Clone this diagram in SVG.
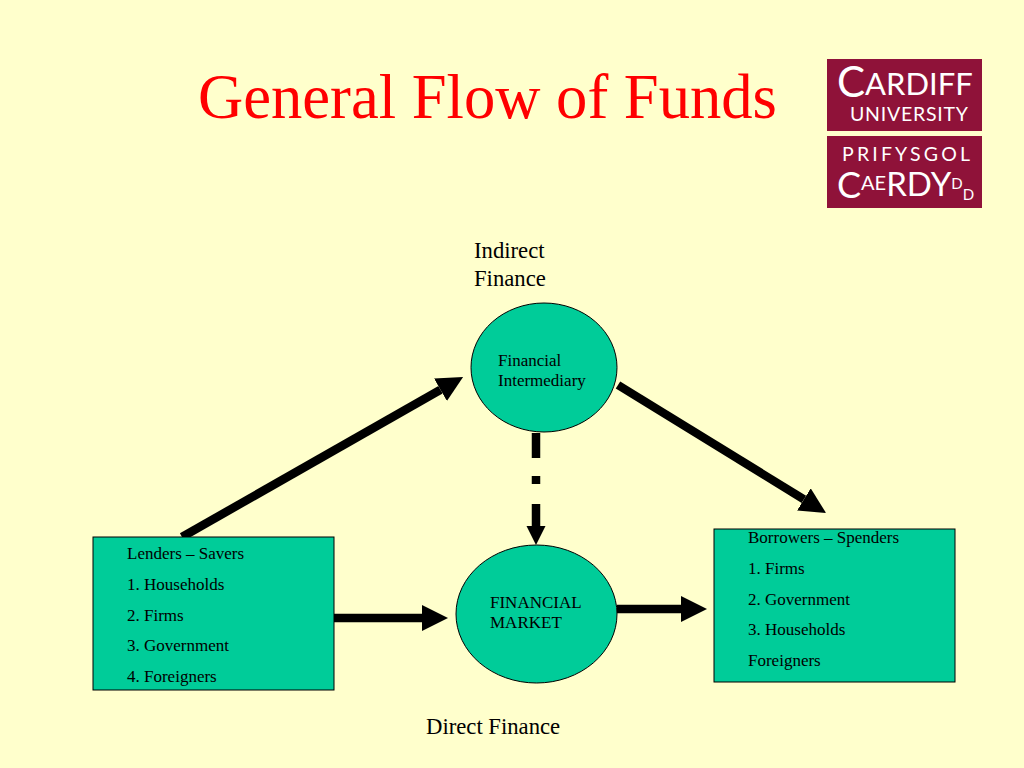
<svg xmlns="http://www.w3.org/2000/svg" width="1024" height="768" viewBox="0 0 1024 768">
<style>
text{font-family:"Liberation Serif","Times New Roman",serif;fill:#000}
.t{font-size:17px}
.m{font-size:22.700px}
.shape{fill:#00CC99;stroke:#000;stroke-width:1}
.c{stroke:#000;stroke-width:8.500;fill:none}
.lg{font-family:Lato,"Open Sans",sans-serif;fill:#fff}
</style>
<defs>
<marker id="ah" markerUnits="userSpaceOnUse" markerWidth="28" markerHeight="28" refX="0" refY="13" orient="auto"><path d="M0 0L26 13L0 26Z" fill="#000"/></marker>
<marker id="ahs" markerUnits="userSpaceOnUse" markerWidth="22" markerHeight="22" refX="0" refY="10" orient="auto"><path d="M0 0.500L19 10L0 19.500Z" fill="#000"/></marker>
</defs>
<rect width="1024" height="768" fill="#FFFFCC"/>
<text x="198" y="118" font-size="62.600" style="fill:#FF0000">General Flow of Funds</text>
<g id="logo">
<rect x="827" y="59" width="155" height="72" fill="#8F1239"/>
<rect x="827" y="136" width="155" height="72" fill="#8F1239"/>
<text class="lg" x="837" y="97"><tspan font-size="42">C</tspan><tspan font-size="31" dy="-2">ARDIFF</tspan></text>
<text class="lg" x="850" y="121" font-size="19.500" textLength="118" lengthAdjust="spacing">UNIVERSITY</text>
<text class="lg" x="842" y="161" font-size="19.500" textLength="128" lengthAdjust="spacing">PRIFYSGOL</text>
<text class="lg" x="837" y="198"><tspan font-size="36">C</tspan><tspan font-size="20" dy="-8">AE</tspan><tspan font-size="33" dy="6">RDY</tspan><tspan font-size="15" dy="-7">D</tspan><tspan font-size="15" dy="11">D</tspan></text>
</g>
<g id="connectors">
<line class="c" x1="182" y1="537" x2="440.500" y2="389.800" marker-end="url(#ah)"/>
<line class="c" x1="618" y1="385" x2="803.900" y2="499.400" marker-end="url(#ah)"/>
<line class="c" x1="536" y1="433" x2="536" y2="458"/>
<line class="c" x1="536" y1="476" x2="536" y2="484"/>
<line class="c" x1="536" y1="504" x2="536" y2="526" marker-end="url(#ahs)"/>
<line class="c" x1="334" y1="618" x2="422" y2="618" marker-end="url(#ah)"/>
<line class="c" x1="617" y1="609" x2="681" y2="609" marker-end="url(#ah)"/>
</g>
<g id="label-indirect">
<text class="m" x="474" y="258">Indirect</text>
<text class="m" x="474" y="286">Finance</text>
</g>
<g id="node-intermediary">
<ellipse class="shape" cx="544" cy="367.500" rx="73" ry="64.500"/>
<text class="t" x="498" y="365.500">Financial</text>
<text class="t" x="498" y="385.500">Intermediary</text>
</g>
<g id="node-market">
<ellipse class="shape" cx="536.500" cy="614" rx="80.500" ry="69"/>
<text class="t" x="490" y="607.500">FINANCIAL</text>
<text class="t" x="490" y="627.500">MARKET</text>
</g>
<g id="node-lenders">
<rect class="shape" x="93" y="537" width="241" height="153"/>
<text class="t" x="127" y="559">Lenders – Savers</text>
<text class="t" x="127" y="590">1. Households</text>
<text class="t" x="127" y="620.500">2. Firms</text>
<text class="t" x="127" y="651">3. Government</text>
<text class="t" x="127" y="682">4. Foreigners</text>
</g>
<g id="node-borrowers">
<rect class="shape" x="714" y="529" width="241" height="153"/>
<text class="t" x="748" y="543">Borrowers – Spenders</text>
<text class="t" x="748" y="574">1. Firms</text>
<text class="t" x="748" y="604.500">2. Government</text>
<text class="t" x="748" y="635">3. Households</text>
<text class="t" x="748" y="666">Foreigners</text>
</g>
<g id="label-direct">
<text class="m" x="426" y="734">Direct Finance</text>
</g>
</svg>
